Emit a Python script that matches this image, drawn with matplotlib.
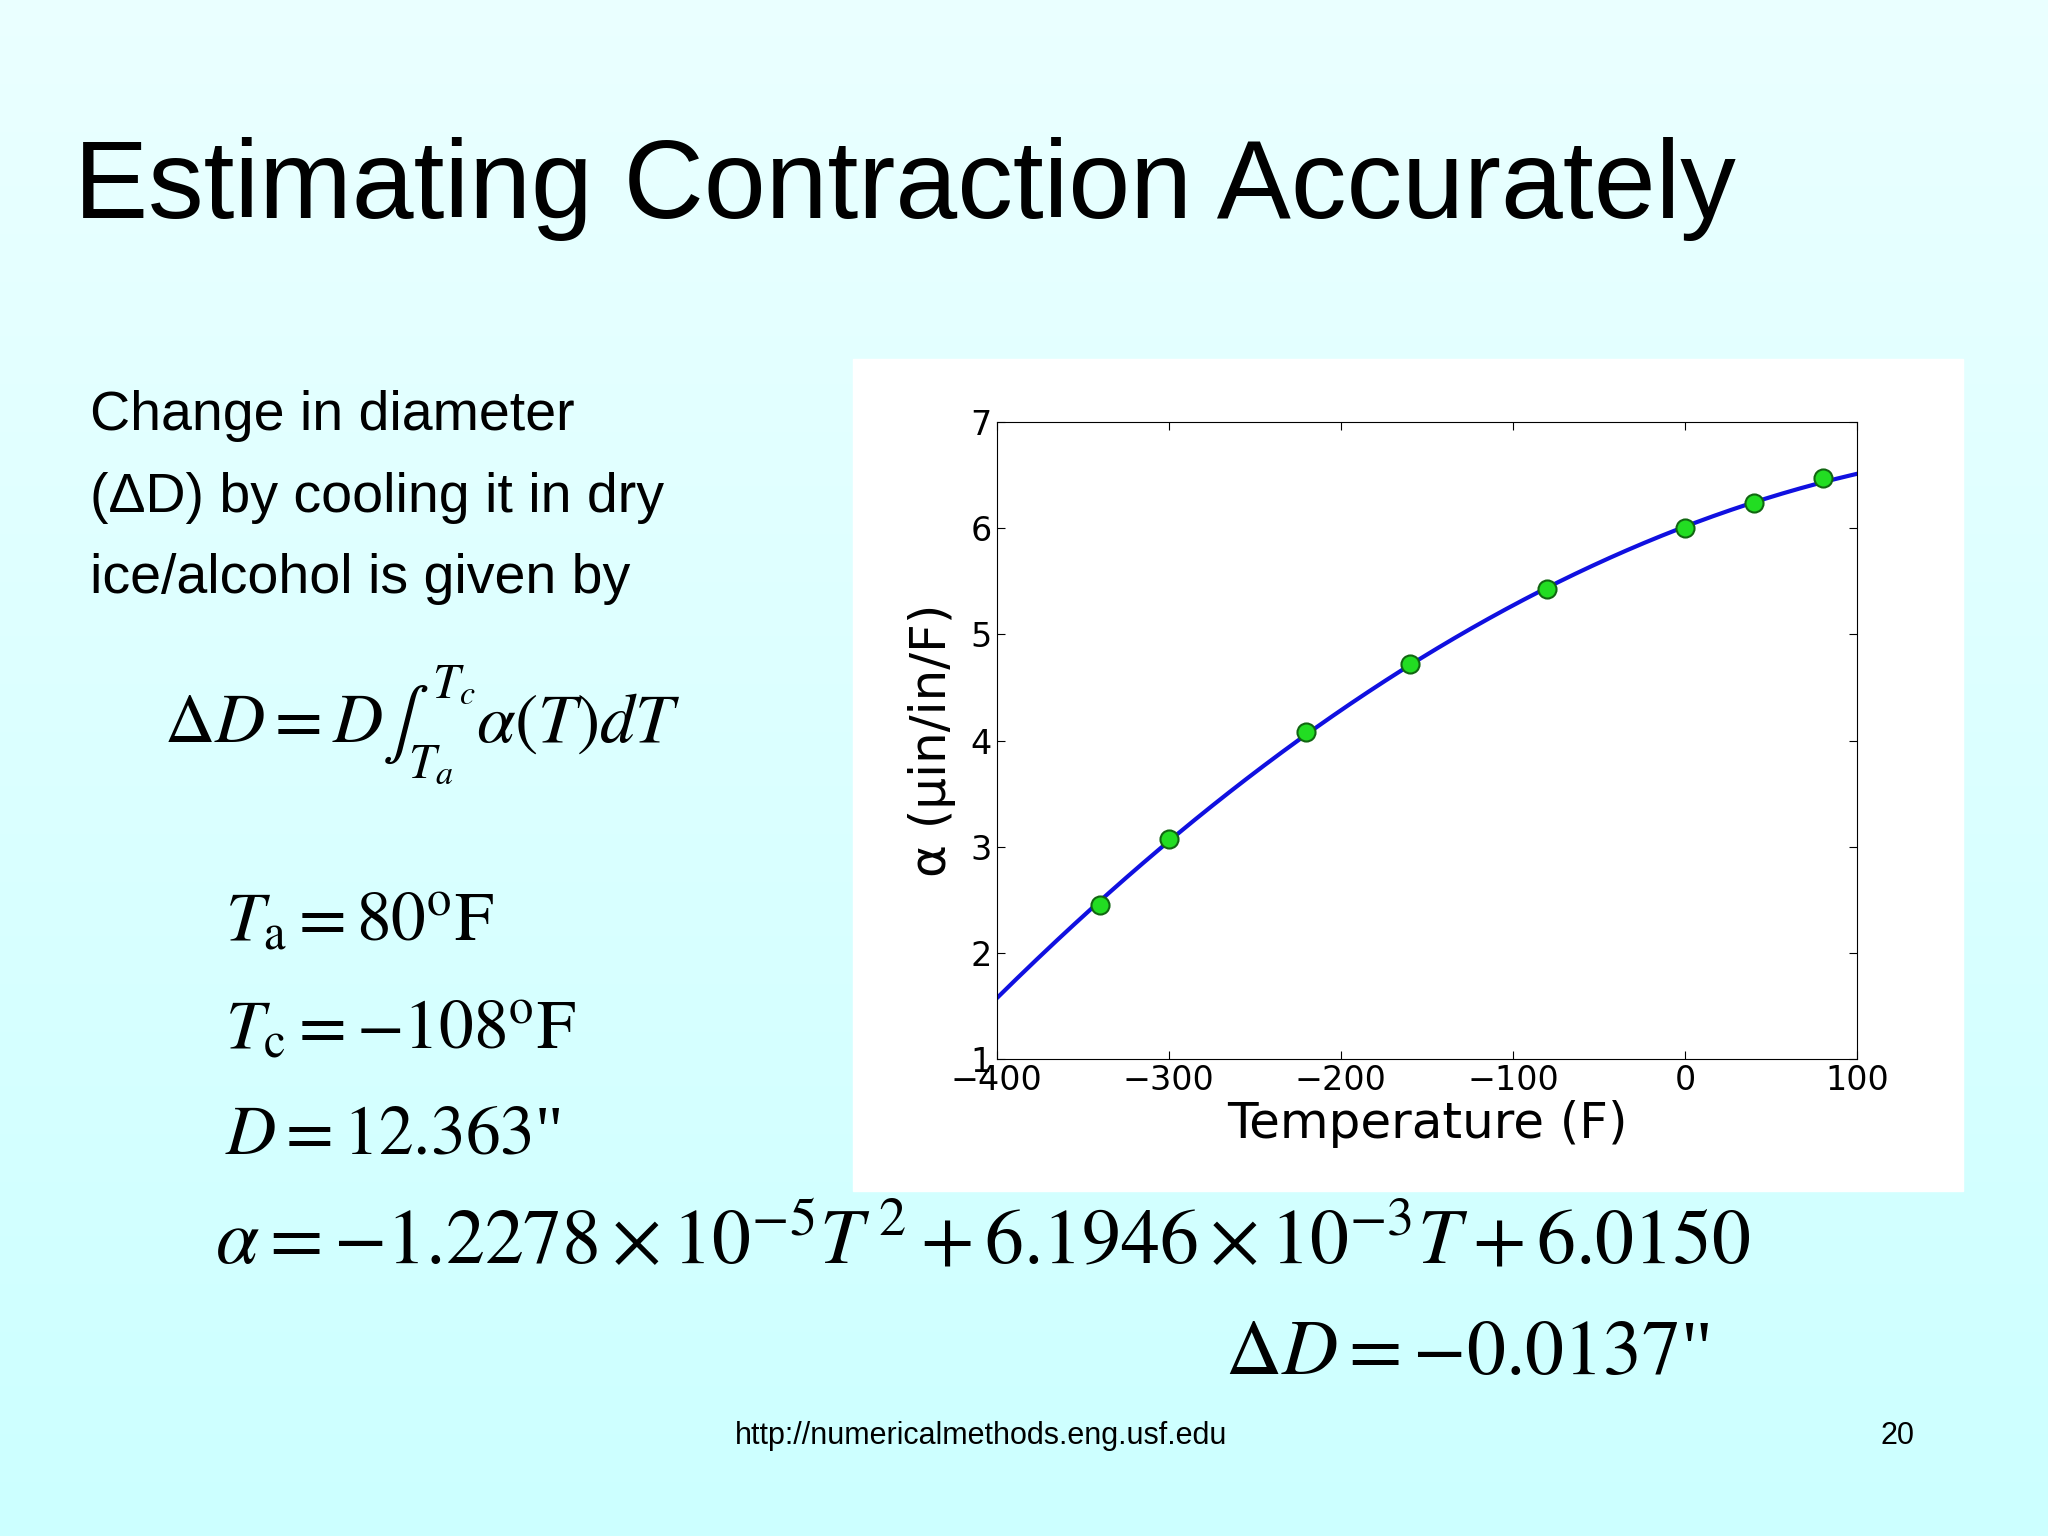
import numpy as np
import matplotlib
matplotlib.use("Agg")
import matplotlib.pyplot as plt
from matplotlib.patches import Rectangle

temps = [-340, -300, -220, -160, -80, 0, 40, 80]
alphas = [2.45, 3.07, 4.08, 4.72, 5.43, 6.00, 6.24, 6.47]
fit_coeffs = [-1.2278e-5, 6.1946e-3, 6.0150]
x_ticks = [-400, -300, -200, -100, 0, 100]
y_ticks = [1, 2, 3, 4, 5, 6, 7]

plt.rcParams['mathtext.fontset'] = 'stix'
fig = plt.figure(figsize=(20.48, 15.36), dpi=100)

bg = fig.add_axes([0, 0, 1, 1], zorder=-10)
grad = np.linspace(0, 1, 256)[:, None]
top = np.array([0.92, 1.0, 1.0]); bot = np.array([0.80, 1.0, 1.0])
img = top[None, None, :] * (1 - grad[:, :, None]) + bot[None, None, :] * grad[:, :, None]
bg.imshow(img, aspect='auto', extent=[0, 1, 0, 1])
bg.set_xlim(0, 1); bg.set_ylim(0, 1); bg.axis('off')
bg.add_patch(Rectangle((653/1568, 1-912/1176), 850/1568, 637/1176, color='white', zorder=1))

F = 'Liberation Sans'
fig.text(0.036, 0.877, 'Estimating Contraction Accurately', fontsize=80, family=F, va='center')
for i, s in enumerate(['Change in diameter', '(ΔD) by cooling it in dry', 'ice/alcohol is given by']):
    fig.text(0.044, 0.729 - i*0.053, s, fontsize=40, family=F, va='center')
fig.text(0.08, 0.528, r'$\Delta D = D\int_{T_a}^{T_c}\alpha(T)dT$', fontsize=50, va='center')
fig.text(0.11, 0.400, r'$T_{\mathrm{a}} = 80^{\mathrm{o}}\mathrm{F}$', fontsize=50, va='center')
fig.text(0.11, 0.330, r'$T_{\mathrm{c}} = -108^{\mathrm{o}}\mathrm{F}$', fontsize=50, va='center')
fig.text(0.11, 0.260, r'$D = 12.363$' + '"', fontsize=50, va='center', family='Liberation Serif')
fig.text(0.105, 0.192, r'$\alpha = -1.2278\times10^{-5}T^{\,2} + 6.1946\times10^{-3}T + 6.0150$', fontsize=56, va='center')
fig.text(0.598, 0.118, r'$\Delta D = -0.0137$' + '"', fontsize=56, va='center', family='Liberation Serif')
fig.text(0.359, 0.065, 'http://numericalmethods.eng.usf.edu', fontsize=22, family=F, va='center')
fig.text(0.918, 0.065, '20', fontsize=22, family=F, va='center')

ax = fig.add_axes([763/1568, 1-811/1176, (1422-763)/1568, (811-323)/1176])
T = np.linspace(-400, 100, 300)
ax.plot(T, np.polyval(fit_coeffs, T), color='#1010e0', lw=3)
ax.plot(temps, alphas, 'o', color='#22dd22', mec='#116611', mew=1.5, ms=13)
ax.set_xlim(-400, 100); ax.set_ylim(1, 7)
ax.set_xticks(x_ticks); ax.set_yticks(y_ticks)
ax.tick_params(direction='in', labelsize=24, length=6, top=True, right=True, labeltop=False, labelright=False)
ax.set_xlabel('Temperature (F)', fontsize=36, labelpad=2)
ax.set_ylabel('α (μin/in/F)', fontsize=36, labelpad=10)
fig.savefig('out.png', dpi=100)
